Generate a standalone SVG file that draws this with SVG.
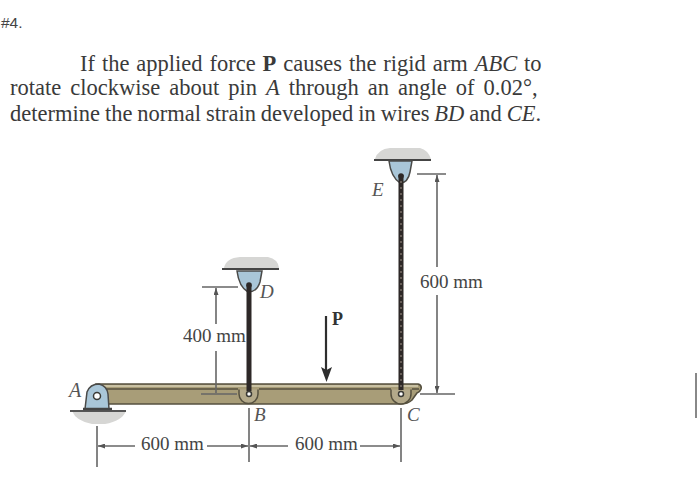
<svg xmlns="http://www.w3.org/2000/svg" width="700" height="482" viewBox="0 0 700 482">
<style>
text{font-family:"Liberation Serif",serif;fill:#333}
.q{font-size:22.5px;fill:#3a3a3a}
.d{font-size:19px;fill:#444}
.l{font-size:19px;font-style:italic;fill:#555}
.dim{stroke:#666;stroke-width:1.6;fill:none}
.clevis{fill:#a9c6d8;stroke:#4a4a48;stroke-width:1.5}
.rock{fill:#d6d6d4}
.pin{fill:#fff;stroke:#3a3a36;stroke-width:1.5}
.edge{stroke:#55503f;stroke-width:1.5;fill:none}
</style>
<defs>
<marker id="ah" viewBox="0 0 7 5" refX="7" refY="2.5" markerWidth="7" markerHeight="5" orient="auto-start-reverse" markerUnits="userSpaceOnUse"><path d="M0 0L7 2.500L0 5Z" fill="#555"/></marker>
</defs>
<rect width="700" height="482" fill="#fff"/>
<text x="1" y="28" style="font-family:'Liberation Sans',sans-serif;font-size:15.500px;fill:#444">#4.</text>
<g id="problem-text">
<text class="q" x="80" y="71" word-spacing="1.300">If the applied force <tspan font-weight="bold">P</tspan> causes the rigid arm <tspan font-style="italic">ABC</tspan> to</text>
<text class="q" x="10" y="95" word-spacing="3.400">rotate clockwise about pin <tspan font-style="italic">A</tspan> through an angle of 0.02°,</text>
<text class="q" x="10" y="121" word-spacing="-0.700">determine the normal strain developed in wires <tspan font-style="italic">BD</tspan> and <tspan font-style="italic">CE</tspan>.</text>
</g>
<g id="arm-ABC">
<path d="M96 384H418Q422 385 421 389Q420 392 417 393L412 400Q408 404 400 404H96Z" fill="#a89d78" stroke="#55503f" stroke-width="1.600"/>
<path d="M100 389H238M259 389H391M412 389H419" class="edge"/>
<path d="M100 386H418" stroke="#c9c1a3" stroke-width="2" fill="none"/>
<path d="M239 389.500V394A9.500 9.500 0 0 0 258 394V389.500" fill="#b3a98a" class="edge" style="fill:#b3a98a"/>
<path d="M391 389.500V394A10 10 0 0 0 411 394V389.500" class="edge" style="fill:#b3a98a"/>
</g>
<g id="support-A">
<path class="rock" d="M72 411H126Q122 421 105 424H92Q76 421 72 411Z"/>
<path d="M70 411H126" stroke="#555" stroke-width="2"/>
<path class="clevis" d="M85 409L87 392Q90 384 99 384Q107 386 108 394L109 409Z"/>
<path d="M83 409H112" stroke="#444" stroke-width="2.500"/>
<circle class="pin" cx="97" cy="396" r="3.500"/>
<text class="l" x="69" y="397" style="font-size:20px">A</text>
</g>
<g id="support-D">
<path class="rock" d="M224 268Q226 258 240 257H268Q278 259 279 268Z"/>
<path d="M222 269H279" stroke="#444" stroke-width="2"/>
<path class="clevis" d="M237 271Q239 287 248 292Q257 292 260 282L262 271Z"/>
<text class="l" x="260" y="298">D</text>
</g>
<g id="support-E">
<path class="rock" d="M375 159Q378 149 390 148H420Q428 150 431 159Z"/>
<path d="M374 160H431" stroke="#444" stroke-width="2"/>
<path class="clevis" d="M389 161Q391 177 400 183Q408 183 410 172L412 161Z"/>
<text class="l" x="372" y="196">E</text>
</g>
<g id="connectors">
<path d="M249 285V391" stroke="#2d2827" stroke-width="5" fill="none"/>
<path d="M401 175V390" stroke="#2d2827" stroke-width="5" fill="none"/>
<path d="M401 175V390" stroke="#7a6f68" stroke-width="1.500" stroke-dasharray="2 4" fill="none"/>
<circle cx="249" cy="394" r="2.500" class="pin"/>
<circle cx="401" cy="394" r="2.500" class="pin"/>
<circle cx="249" cy="285" r="2.800" fill="#2d2827"/>
<circle cx="401" cy="176" r="2.800" fill="#2d2827"/>
<path d="M202 287H238M201 394H237M417 174H446M420 394H455" class="dim"/>
<path class="dim" d="M216 288V324" marker-start="url(#ah)"/>
<path class="dim" d="M216 351V393"/>
<path class="dim" d="M437 175V267" marker-start="url(#ah)"/>
<path class="dim" d="M437 295V393" marker-end="url(#ah)"/>
<path class="dim" d="M97 426V467M249 408V462M401 408V462"/>
<path class="dim" d="M98 446H135" marker-start="url(#ah)"/>
<path class="dim" d="M207 446H248" marker-end="url(#ah)"/>
<path class="dim" d="M250 446H288" marker-start="url(#ah)"/>
<path class="dim" d="M360 446H400" marker-end="url(#ah)"/>
<path d="M326 316V372" stroke="#2e2e2e" stroke-width="2.200"/>
<path d="M321 367L326.500 370L332 367L326.500 382Z" fill="#2e2e2e"/>
</g>
<g id="labels">
<text class="d" x="141" y="450">600 mm</text>
<text class="d" x="295" y="450">600 mm</text>
<text class="d" x="183" y="342">400 mm</text>
<text class="d" x="420" y="288">600 mm</text>
<text x="332" y="325" style="font-size:18px;font-weight:bold;fill:#333">P</text>
<text class="l" x="254" y="421">B</text>
<text class="l" x="407" y="421">C</text>
</g>
<path id="edge-mark" d="M696 373V418" stroke="#888" stroke-width="2"/>
</svg>
